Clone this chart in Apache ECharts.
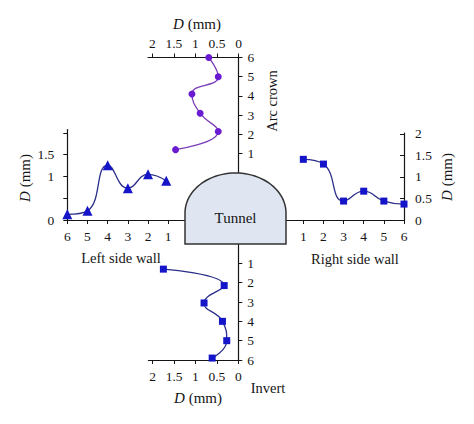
<!DOCTYPE html>
<html>
<head>
<meta charset="utf-8">
<script src="https://cdn.jsdelivr.net/npm/echarts@6/dist/echarts.min.js"></script>
<style>
  html, body { margin: 0; padding: 0; background: #fff; }
  #main { width: 474px; height: 424px; }
</style>
</head>
<body>
<div id="main"></div>
<script>
// displacement D (mm) at measuring points 1..6 around the tunnel
var crownPos = [6, 5, 4.1, 3.1, 2.15, 1.2];
var crownD = [0.69, 0.47, 1.08, 0.89, 0.47, 1.46];

var leftPos = [6, 5, 4, 3, 2, 1.1];
var leftD = [0.13, 0.21, 1.26, 0.73, 1.05, 0.9];

var rightPos = [1, 2, 3, 4, 5, 6];
var rightD = [1.41, 1.3, 0.44, 0.67, 0.44, 0.37];

var invertPos = [1.3, 2.15, 3.05, 4, 5, 5.9];
var invertD = [1.75, 0.33, 0.8, 0.37, 0.27, 0.61];

var pointTicks = [1, 2, 3, 4, 5, 6];
var dTicks = [0, 0.5, 1, 1.5, 2];
var leftDLabels = [0, 1, 1.5];

var font = 'Liberation Serif';
var ink = '#151515';
var lineBlue = '#2b2f8a';
var markBlue = '#1414c8';

function pairs(a, b) {
    return a.map(function (v, i) { return [v, b[i]]; });
}

function axis(o) {
    return {
        type: 'value',
        gridIndex: o.grid,
        position: o.position,
        inverse: !!o.inverse,
        min: o.min,
        max: o.max,
        splitLine: { show: false },
        axisLine: { show: true, onZero: false, lineStyle: { color: ink, width: 1.2 } },
        axisTick: { show: true, length: 4, inside: !!o.tickInside, customValues: o.ticks, lineStyle: { color: ink } },
        axisLabel: { customValues: o.labels, margin: o.margin || 9, color: ink, fontFamily: font, fontSize: 13.5,
            formatter: function (v) { return String(v); } }
    };
}

// tunnel outline: box with a half-ellipse roof
var tunnelPts = [[185, 244], [185, 213]];
for (var k = 1; k < 48; k++) {
    var t = Math.PI - Math.PI * k / 48;
    tunnelPts.push([235.5 + 50.5 * Math.cos(t), 213 - 40 * Math.sin(t)]);
}
tunnelPts.push([286, 213], [286, 244]);

function title(x, y, rot) {
    return { type: 'text', x: x, y: y, rotation: rot || 0,
        style: { text: '{i|D} (mm)', fill: ink, font: '15px "Liberation Serif"', align: 'center', verticalAlign: 'middle',
                 rich: { i: { fontStyle: 'italic', fontFamily: font, fontSize: 15 } } } };
}
function place(txt, x, y, rot) {
    return { type: 'text', x: x, y: y, rotation: rot || 0,
        style: { text: txt, fill: ink, font: '14.5px "Liberation Serif"', align: 'center', verticalAlign: 'middle' } };
}

var myChart = echarts.init(document.getElementById('main'), null, { renderer: 'svg' });

var option = {
    backgroundColor: '#fff',
    animation: false,
    grid: [
        { left: 148, top: 57.5, width: 90.5, height: 115.2 },
        { left: 67.3, top: 129.5, width: 117.7, height: 90.5 },
        { left: 286, top: 133.1, width: 118, height: 86.9 },
        { left: 148.4, top: 244, width: 89.9, height: 116 }
    ],
    xAxis: [
        axis({ grid: 0, position: 'top', inverse: true, min: 0, max: 2.1, ticks: dTicks, labels: dTicks, margin: 7 }),
        axis({ grid: 1, position: 'bottom', inverse: true, min: 0.17, max: 6, ticks: pointTicks, labels: pointTicks }),
        axis({ grid: 2, position: 'bottom', min: 0.14, max: 6, ticks: pointTicks, labels: pointTicks }),
        axis({ grid: 3, position: 'bottom', inverse: true, min: 0, max: 2.1, ticks: dTicks, labels: dTicks })
    ],
    yAxis: [
        axis({ grid: 0, position: 'right', min: 0, max: 6, ticks: pointTicks, labels: pointTicks, margin: 9 }),
        axis({ grid: 1, position: 'left', min: 0, max: 2.08, ticks: dTicks, labels: leftDLabels, margin: 13 }),
        axis({ grid: 2, position: 'right', min: 0, max: 2.02, ticks: dTicks, labels: dTicks, tickInside: true, margin: 11 }),
        axis({ grid: 3, position: 'right', inverse: true, min: 0, max: 6, ticks: pointTicks, labels: pointTicks, margin: 9 })
    ],
    series: [
        {
            name: 'Arc crown', type: 'line', xAxisIndex: 0, yAxisIndex: 0,
            data: pairs(crownD, crownPos), smooth: 0.5,
            symbol: 'circle', symbolSize: 7,
            itemStyle: { color: '#6a1bd1' },
            lineStyle: { color: '#7b3fb8', width: 1.3 }
        },
        {
            name: 'Left side wall', type: 'line', xAxisIndex: 1, yAxisIndex: 1,
            data: pairs(leftPos, leftD), smooth: 0.5,
            symbol: 'triangle', symbolSize: 10,
            itemStyle: { color: markBlue },
            lineStyle: { color: lineBlue, width: 1.3 }
        },
        {
            name: 'Right side wall', type: 'line', xAxisIndex: 2, yAxisIndex: 2,
            data: pairs(rightPos, rightD), smooth: 0.5,
            symbol: 'rect', symbolSize: 7,
            itemStyle: { color: markBlue },
            lineStyle: { color: lineBlue, width: 1.3 }
        },
        {
            name: 'Invert', type: 'line', xAxisIndex: 3, yAxisIndex: 3,
            data: pairs(invertD, invertPos), smooth: 0.5,
            symbol: 'rect', symbolSize: 7,
            itemStyle: { color: markBlue },
            lineStyle: { color: lineBlue, width: 1.3 }
        }
    ],
    graphic: [
        { type: 'polygon', z: 10, shape: { points: tunnelPts },
          style: { fill: '#dfe6f2', stroke: '#333', lineWidth: 1.5 } },
        { type: 'text', z: 11, x: 235.5, y: 218,
          style: { text: 'Tunnel', fill: ink, font: '15px "Liberation Serif"', align: 'center', verticalAlign: 'middle' } },
        title(197, 24),
        title(198, 398),
        title(25, 178, Math.PI / 2),
        title(447, 177, Math.PI / 2),
        place('Arc crown', 272, 101, Math.PI / 2),
        place('Left side wall', 121, 258),
        place('Right side wall', 355, 259),
        place('Invert', 268, 388)
    ]
};
myChart.setOption(option);
</script>
</body>
</html>
